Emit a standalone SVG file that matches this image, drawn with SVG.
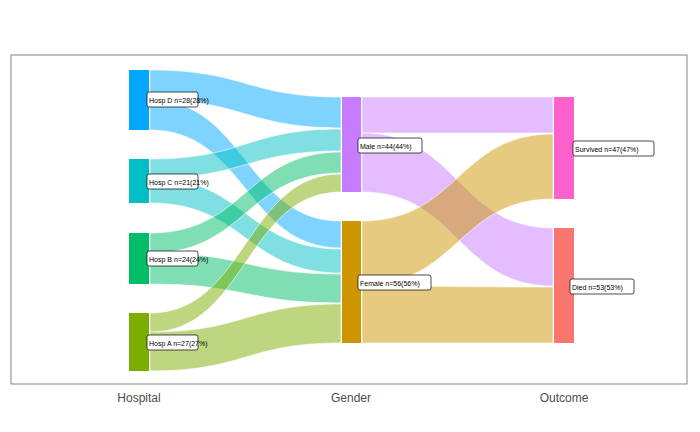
<svg xmlns="http://www.w3.org/2000/svg" width="700" height="432" viewBox="0 0 700 432">
<style>
.f{fill-opacity:0.5;stroke:#fff;stroke-width:0.6}
.lb{fill:#fff;stroke:#000;stroke-width:0.7}
.lt{font-family:"Liberation Sans",Arial,sans-serif;font-size:7px;fill:#000}
.ax{font-family:"Liberation Sans",Arial,sans-serif;font-size:12px;fill:#4d4d4d;text-anchor:middle}
</style>
<rect x="0" y="0" width="700" height="432" fill="#fff"/>
<rect x="11" y="55" width="676" height="329" fill="#fff" stroke="#666" stroke-width="0.8"/>
<g id="connectors">
<path class="f" fill="#00A9FF" d="M150,70 C246,70 246,97 341,97 L341,128 C246,128 246,100 150,100 Z"/>
<path class="f" fill="#00A9FF" d="M150,100 C246,100 246,221 341,221 L341,248 C246,248 246,130 150,130 Z"/>
<path class="f" fill="#00BFC4" d="M150,159 C246,159 246,129 341,129 L341,151 C246,151 246,178 150,178 Z"/>
<path class="f" fill="#00BFC4" d="M150,178 C246,178 246,249 341,249 L341,273 C246,273 246,203 150,203 Z"/>
<path class="f" fill="#00BE67" d="M150,233 C246,233 246,152 341,152 L341,173 C246,173 246,253 150,253 Z"/>
<path class="f" fill="#00BE67" d="M150,253 C246,253 246,274 341,274 L341,303 C246,303 246,284 150,284 Z"/>
<path class="f" fill="#7CAE00" d="M150,313 C246,313 246,174 341,174 L341,192 C246,192 246,332 150,332 Z"/>
<path class="f" fill="#7CAE00" d="M150,332 C246,332 246,304 341,304 L341,343 C246,343 246,371 150,371 Z"/>
<path class="f" fill="#C77CFF" d="M362,97 C458,97 458,97 553,97 L553,133 C458,133 458,133 362,133 Z"/>
<path class="f" fill="#C77CFF" d="M362,133 C458,133 458,228 553,228 L553,286 C458,286 458,192 362,192 Z"/>
<path class="f" fill="#CD9600" d="M362,221 C458,221 458,134 553,134 L553,199 C458,199 458,285 362,285 Z"/>
<path class="f" fill="#CD9600" d="M362,286 C458,286 458,287 553,287 L553,343 C458,343 458,343 362,343 Z"/>
</g>
<g id="hospD"><rect x="129" y="70" width="20" height="60" fill="#00A9FF"/><rect class="lb" x="147" y="92" width="51" height="15" rx="2"/><text class="lt" x="149" y="102.5">Hosp D n=28(28%)</text></g>
<g id="hospC"><rect x="129" y="159" width="20" height="44" fill="#00BFC4"/><rect class="lb" x="147" y="174" width="51" height="15" rx="2"/><text class="lt" x="149" y="184.5">Hosp C n=21(21%)</text></g>
<g id="hospB"><rect x="129" y="233" width="20" height="51" fill="#00BE67"/><rect class="lb" x="147" y="251" width="51" height="15" rx="2"/><text class="lt" x="149" y="261.5">Hosp B n=24(24%)</text></g>
<g id="hospA"><rect x="129" y="313" width="20" height="58" fill="#7CAE00"/><rect class="lb" x="147" y="335" width="51" height="15" rx="2"/><text class="lt" x="149" y="345.5">Hosp A n=27(27%)</text></g>
<g id="male"><rect x="342" y="97" width="19" height="95" fill="#C77CFF"/><rect class="lb" x="358" y="138" width="64" height="15" rx="2"/><text class="lt" x="360" y="148.5">Male n=44(44%)</text></g>
<g id="female"><rect x="342" y="221" width="19" height="122" fill="#CD9600"/><rect class="lb" x="358" y="275" width="73" height="15" rx="2"/><text class="lt" x="360" y="285.5">Female n=56(56%)</text></g>
<g id="survived"><rect x="554" y="97" width="20" height="102" fill="#FF61CC"/><rect class="lb" x="573" y="141" width="81" height="15" rx="2"/><text class="lt" x="575" y="151.5">Survived n=47(47%)</text></g>
<g id="died"><rect x="554" y="228" width="20" height="115" fill="#F8766D"/><rect class="lb" x="570" y="279" width="64" height="15" rx="2"/><text class="lt" x="572" y="289.5">Died n=53(53%)</text></g>
<text class="ax" x="139" y="402">Hospital</text>
<text class="ax" x="351" y="402">Gender</text>
<text class="ax" x="564" y="402">Outcome</text>
</svg>
